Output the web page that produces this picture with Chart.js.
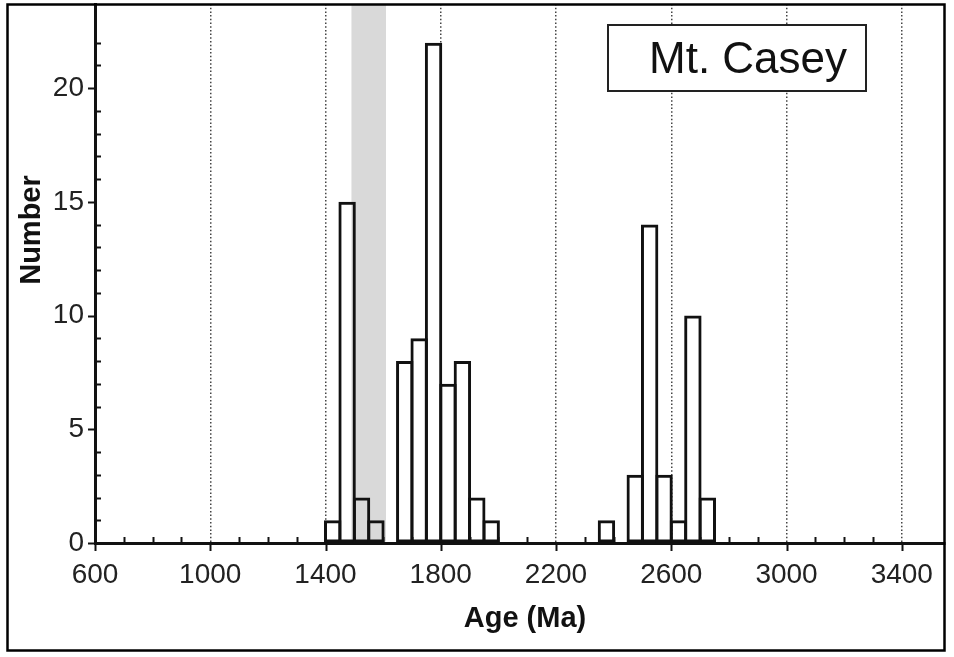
<!DOCTYPE html>
<html><head><meta charset="utf-8">
<script src="https://cdn.jsdelivr.net/npm/chart.js@4.4.1/dist/chart.umd.min.js"></script>
<style>html,body{margin:0;padding:0;background:#fff;} canvas{display:block;}</style>
</head><body>
<canvas id="c" width="954" height="657"></canvas>
<script>
// ---- data ----
const binStarts = [1400, 1450, 1500, 1550, 1600, 1650, 1700, 1750, 1800, 1850, 1900, 1950,
                   2350, 2400, 2450, 2500, 2550, 2600, 2650, 2700];
const counts    = [1, 15, 2, 1, 0, 8, 9, 22, 7, 8, 2, 1,
                   1, 0, 3, 14, 3, 1, 10, 2];
const binWidth = 50;
const xTickLabels = ['600', '1000', '1400', '1800', '2200', '2600', '3000', '3400'];
const yTickLabels = ['0', '5', '10', '15', '20'];
const shadedAge = [1490, 1610];
const sampleName = 'Mt. Casey';
const xTitle = 'Age (Ma)';
const yTitle = 'Number';

const FONT = '"Liberation Sans", Arial, Helvetica, sans-serif';

const decorations = {
  id: 'decorations',
  beforeDatasetsDraw(chart) {
    const {ctx, chartArea: a, scales: {x}} = chart;
    ctx.save();
    ctx.fillStyle = '#d9d9d9';
    const x0 = x.getPixelForValue(shadedAge[0]);
    const x1 = x.getPixelForValue(shadedAge[1]);
    ctx.fillRect(x0, a.top, x1 - x0, a.bottom - a.top - 1.5);
    ctx.restore();
  },
  afterDatasetsDraw(chart) {
    const {ctx, chartArea: a, scales: {x, y}} = chart;
    ctx.save();
    // tick marks: majors outside, minors inside
    ctx.strokeStyle = '#111';
    ctx.lineWidth = 2;
    x.ticks.forEach(t => {
      if (t.value % 100 !== 0) return;
      const px = Math.round(x.getPixelForValue(t.value)) + 0.5;
      const major = xTickLabels.includes(String(t.value));
      ctx.beginPath();
      if (major) { ctx.moveTo(px, a.bottom); ctx.lineTo(px, a.bottom + 8); }
      else { ctx.moveTo(px, a.bottom); ctx.lineTo(px, a.bottom - 6); }
      ctx.stroke();
    });
    y.ticks.forEach(t => {
      if (!Number.isInteger(t.value)) return;
      const py = Math.round(y.getPixelForValue(t.value)) + 0.5;
      const major = yTickLabels.includes(String(t.value));
      ctx.beginPath();
      if (major) { ctx.moveTo(a.left, py); ctx.lineTo(a.left - 7, py); }
      else { ctx.moveTo(a.left, py); ctx.lineTo(a.left + 6, py); }
      ctx.stroke();
    });
    // sample name box
    ctx.fillStyle = '#fff';
    ctx.fillRect(608, 25, 258, 66);
    ctx.strokeStyle = '#222';
    ctx.lineWidth = 2;
    ctx.strokeRect(608, 25, 258, 66);
    ctx.fillStyle = '#111';
    ctx.font = '44px ' + FONT;
    ctx.textAlign = 'left';
    ctx.textBaseline = 'alphabetic';
    ctx.fillText(sampleName, 649, 73);
    ctx.restore();
  },
  afterDraw(chart) {
    const {ctx} = chart;
    ctx.save();
    ctx.fillStyle = '#111';
    ctx.font = 'bold 29px ' + FONT;
    ctx.textAlign = 'center';
    ctx.textBaseline = 'middle';
    ctx.fillText(xTitle, 525, 619);
    ctx.translate(32, 230);
    ctx.rotate(-Math.PI / 2);
    ctx.fillText(yTitle, 0, 0);
    ctx.restore();
    // outer frame
    ctx.save();
    ctx.strokeStyle = '#000';
    ctx.lineWidth = 2.5;
    ctx.strokeRect(7.5, 4.5, 937, 646);
    ctx.restore();
  }
};

new Chart(document.getElementById('c'), {
  type: 'bar',
  data: {
    datasets: [{
      data: binStarts.map((s, i) => ({x: s + binWidth / 2, y: counts[i]})),
      backgroundColor: 'rgba(255,255,255,0)',
      borderColor: '#111',
      borderWidth: 3,
      borderSkipped: false,
      barPercentage: 1.208,
      categoryPercentage: 1
    }]
  },
  options: {
    responsive: false,
    animation: false,
    layout: {padding: {left: 0, right: 9, top: 4, bottom: 0}},
    plugins: {legend: {display: false}, tooltip: {enabled: false}},
    scales: {
      x: {
        type: 'linear',
        min: 600,
        max: 3550,
        offset: false,
        afterFit(s) { s.height = 114; s.paddingLeft = 0; s.paddingRight = 0; },
        ticks: {
          stepSize: 100,
          autoSkip: false,
          maxRotation: 0,
          padding: 15,
          color: '#222',
          font: {family: FONT, size: 28},
          callback(v) { const i = xTickLabels.indexOf(String(v)); return i >= 0 ? xTickLabels[i] : ''; }
        },
        grid: {
          offset: false,
          drawTicks: false,
          lineWidth: 1.5,
          color(ctx) {
            const v = ctx.tick && ctx.tick.value;
            return (xTickLabels.includes(String(v)) && v !== 600) ? '#444' : 'rgba(0,0,0,0)';
          }
        },
        border: {display: true, color: '#111', width: 3, dash: [1.5, 2.2]}
      },
      y: {
        type: 'linear',
        min: 0,
        max: 23.7,
        afterFit(s) { s.width = 95; s.paddingTop = 0; s.paddingBottom = 0; },
        ticks: {
          stepSize: 1,
          autoSkip: false,
          padding: 11,
          color: '#222',
          font: {family: FONT, size: 28},
          callback(v) { const i = yTickLabels.indexOf(String(v)); return i >= 0 ? yTickLabels[i] : ''; }
        },
        grid: {drawTicks: false, color: 'rgba(0,0,0,0)'},
        border: {display: true, color: '#111', width: 3}
      }
    }
  },
  plugins: [decorations]
});
</script>
</body></html>
